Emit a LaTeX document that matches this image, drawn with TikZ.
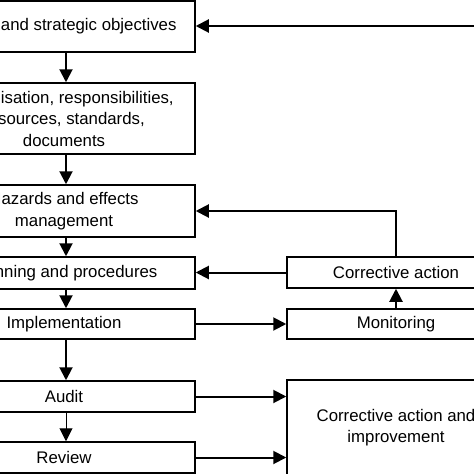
\documentclass[tikz,border=0pt]{standalone}
\usepackage{fontspec}
\setmainfont{Liberation Sans}
\usetikzlibrary{arrows.meta}
\begin{document}
\begin{tikzpicture}[x=1pt,y=-1pt,>={Triangle[length=13pt,width=13pt]},
  box/.style={draw,line width=1.5pt,inner sep=0pt,align=center,font=\fontsize{16.8}{21.5}\selectfont},
  lbox/.style={box,minimum width=262pt},
  rbox/.style={box,minimum width=218pt},
  link/.style={line width=2pt,->}]
\useasboundingbox (0,0) rectangle (474,474);
\clip (0,0) rectangle (474,474);

% left column
\node[lbox,minimum height=51pt] (policy) at (64,26.5) {Policy and strategic objectives};
\node[lbox,minimum height=71pt] (organis) at (64,118.5) {Organisation, responsibilities,\\resources, standards,\\documents};
\node[lbox,minimum height=52pt] (hazard) at (64,211) {Hazards and effects\\management};
\node[lbox,minimum height=32pt] (plan) at (64,273) {Planning and procedures};
\node[lbox,minimum height=30pt] (impl) at (64,324) {Implementation};
\node[lbox,minimum height=31pt] (audit) at (64,396.5) {Audit};
\node[lbox,minimum height=31pt] (review) at (64,457.5) {Review};

% right column
\node[rbox,minimum height=31pt] (corr) at (396,272.5) {Corrective action};
\node[rbox,minimum height=30pt] (monit) at (396,324) {Monitoring};
\node[rbox,minimum height=95pt] (improve) at (396,427.5) {Corrective action and\\improvement};
\coordinate (back) at (480,26);

\draw[link] (back) -- (policy.east |- back);
\draw[link] (policy.south -| 66,0) -- (organis.north -| 66,0);
\draw[link] (organis.south -| 66,0) -- (hazard.north -| 66,0);
\draw[link] (hazard.south -| 66,0) -- (plan.north -| 66,0);
\draw[link] (plan.south -| 66,0) -- (impl.north -| 66,0);
\draw[link] (impl.south -| 66,0) -- (audit.north -| 66,0);
\draw[link,line width=1pt] (audit.south -| 66,0) -- (review.north -| 66,0);

\draw[link] (impl.east) -- (monit.west);
\draw[link] (monit.north) -- (corr.south);
\draw[link] (corr.west) -- (plan.east |- corr.west);
\draw[link] (corr.north) |- (hazard.east);
\draw[link] (audit.east) -- (improve.west |- audit.east);
\draw[link] (review.east) -- (improve.west |- review.east);
\end{tikzpicture}
\end{document}
